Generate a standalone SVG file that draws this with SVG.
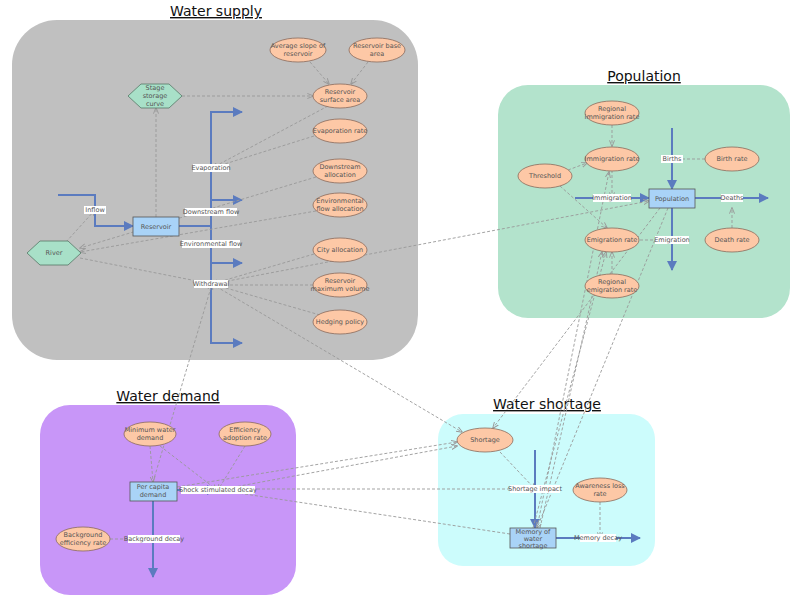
<svg xmlns="http://www.w3.org/2000/svg" width="800" height="600" viewBox="0 0 800 600">
<style>
text{font-family:"DejaVu Sans",sans-serif;font-size:6.5px;fill:#555;text-anchor:middle;dominant-baseline:middle}
.t{font-size:14px;fill:#111;text-decoration:underline}
.e{fill:#fdc8a6;stroke:#8a6a5a;stroke-width:0.8}
.h{fill:#a8e0c8;stroke:#557766;stroke-width:0.8}
.s{fill:#a9d3f7;stroke:#555;stroke-width:0.8}
.f{fill:none;stroke:#5b7bbf;stroke-width:2;marker-end:url(#fa)}
.d{fill:none;stroke:#999;stroke-width:0.9;stroke-dasharray:3,2;marker-end:url(#da)}
.lb{fill:#fff}
</style>
<defs>
<marker id="fa" viewBox="0 0 10 10" refX="9" refY="5" markerWidth="5" markerHeight="5" orient="auto"><path d="M0,0L10,5L0,10z" fill="#5b7bbf"/></marker>
<marker id="da" viewBox="0 0 10 10" refX="9" refY="5" markerWidth="7" markerHeight="7" orient="auto"><path d="M0,1L10,5L0,9" fill="none" stroke="#999" stroke-width="1.5"/></marker>
</defs>
<rect x="0" y="0" width="800" height="600" fill="#fff"/>
<g id="groups">
<rect x="12" y="20" width="406" height="340" rx="45" fill="#c0c0c0"/>
<text class="t" x="216" y="12">Water supply</text>
<rect x="498" y="85" width="292" height="233" rx="30" fill="#b3e3cc"/>
<text class="t" x="644" y="77">Population</text>
<rect x="40" y="405" width="256" height="190" rx="30" fill="#c896f8"/>
<text class="t" x="168" y="397">Water demand</text>
<rect x="438" y="414" width="217" height="152" rx="25" fill="#ccfcfc"/>
<text class="t" x="547" y="405">Water shortage</text>
</g>
<g id="connectors">
<path class="f" d="M58,195H95V226H133"/>
<path class="f" d="M179,226H211V112H242"/>
<path class="f" d="M211,200H242"/>
<path class="f" d="M211,226V263H242"/>
<path class="f" d="M211,263V343H242"/>
<path class="f" d="M672,128V189"/>
<path class="f" d="M575,198H649"/>
<path class="f" d="M695,198H768"/>
<path class="f" d="M672,208V270"/>
<path class="f" d="M535,450V528"/>
<path class="f" d="M556,538H640"/>
<path class="f" d="M177,490H216"/>
<path class="f" d="M153,500V577"/>
<path class="d" d="M310,62L329,84"/>
<path class="d" d="M368,62L351,84"/>
<path class="d" d="M182,96H313"/>
<path class="d" d="M156,217V108"/>
<path class="d" d="M328,106L212,168"/>
<path class="d" d="M314,136L212,168"/>
<path class="d" d="M316,177L80,248"/>
<path class="d" d="M316,211L80,252"/>
<path class="d" d="M66,242L95,210"/>
<path class="d" d="M80,258L212,284"/>
<path class="d" d="M314,254L212,284"/>
<path class="d" d="M313,285H212"/>
<path class="d" d="M320,315L212,284"/>
<path class="d" d="M212,284L649,201"/>
<path class="d" d="M153,482L212,284"/>
<path class="d" d="M212,284L462,432"/>
<path class="d" d="M612,125V146"/>
<path class="d" d="M568,170L587,163"/>
<path class="d" d="M560,186L607,228"/>
<path class="d" d="M612,170V198"/>
<path class="d" d="M705,159H672"/>
<path class="d" d="M732,228V208"/>
<path class="d" d="M640,240H672"/>
<path class="d" d="M612,274V252"/>
<path class="d" d="M660,208L493,428"/>
<path class="d" d="M668,208L537,528"/>
<path class="d" d="M537,528L609,172"/>
<path class="d" d="M533,528L606,252"/>
<path class="d" d="M540,528L602,252"/>
<path class="d" d="M500,452L535,489"/>
<path class="d" d="M600,502V538"/>
<path class="d" d="M150,446L153,482"/>
<path class="d" d="M160,446L217,490"/>
<path class="d" d="M245,446L218,490"/>
<path class="d" d="M535,489H218"/>
<path class="d" d="M510,534L218,490"/>
<path class="d" d="M177,487L457,442"/>
<path class="d" d="M218,490L457,446"/>
<path class="d" d="M110,539H153"/>
</g>
<g id="labels">
<rect class="lb" x="84" y="206" width="22" height="8"/><text x="95" y="210">Inflow</text>
<rect class="lb" x="193" y="164" width="36" height="8"/><text x="211" y="168">Evaporation</text>
<rect class="lb" x="185" y="208" width="52" height="8"/><text x="211" y="212">Downstream flow</text>
<rect class="lb" x="182" y="240" width="58" height="8"/><text x="211" y="244">Environmental flow</text>
<rect class="lb" x="194" y="280" width="34" height="8"/><text x="211" y="284">Withdrawal</text>
<rect class="lb" x="661" y="155" width="22" height="8"/><text x="672" y="159">Births</text>
<rect class="lb" x="593" y="194" width="38" height="8"/><text x="612" y="198">Immigration</text>
<rect class="lb" x="721" y="194" width="22" height="8"/><text x="732" y="198">Deaths</text>
<rect class="lb" x="655" y="236" width="34" height="8"/><text x="672" y="240">Emigration</text>
<rect class="lb" x="510" y="485" width="50" height="8"/><text x="535" y="489">Shortage impact</text>
<rect class="lb" x="580" y="534" width="36" height="8"/><text x="598" y="538">Memory decay</text>
<rect class="lb" x="181" y="486" width="74" height="8"/><text x="218" y="490">Shock stimulated decay</text>
<rect class="lb" x="128" y="535" width="52" height="8"/><text x="154" y="539">Background decay</text>
</g>
<g id="n-avgslope"><ellipse class="e" cx="298" cy="50" rx="28" ry="12"/><text x="298" y="46">Average slope of</text><text x="298" y="54">reservoir</text></g>
<g id="n-basearea"><ellipse class="e" cx="377" cy="50" rx="28" ry="12"/><text x="377" y="46">Reservoir base</text><text x="377" y="54">area</text></g>
<g id="n-stage"><polygon class="h" points="128,96 141,84 169,84 182,96 169,108 141,108"/><text x="155" y="88">Stage</text><text x="155" y="96">storage</text><text x="155" y="104">curve</text></g>
<g id="n-surface"><ellipse class="e" cx="340" cy="96" rx="27" ry="12"/><text x="340" y="92">Reservoir</text><text x="340" y="100">surface area</text></g>
<g id="n-evaprate"><ellipse class="e" cx="340" cy="131" rx="27" ry="12"/><text x="340" y="131">Evaporation rate</text></g>
<g id="n-downalloc"><ellipse class="e" cx="340" cy="171" rx="27" ry="12"/><text x="340" y="167">Downstream</text><text x="340" y="175">allocation</text></g>
<g id="n-envalloc"><ellipse class="e" cx="340" cy="205" rx="27" ry="12"/><text x="340" y="201">Environmental</text><text x="340" y="209">flow allocation</text></g>
<g id="n-city"><ellipse class="e" cx="340" cy="250" rx="27" ry="12"/><text x="340" y="250">City allocation</text></g>
<g id="n-maxvol"><ellipse class="e" cx="340" cy="285" rx="27" ry="12"/><text x="340" y="281">Reservoir</text><text x="340" y="289">maximum volume</text></g>
<g id="n-hedging"><ellipse class="e" cx="340" cy="322" rx="27" ry="12"/><text x="340" y="322">Hedging policy</text></g>
<g id="n-river"><polygon class="h" points="27,253 40,241 68,241 81,253 68,265 40,265"/><text x="54" y="253">River</text></g>
<g id="n-reservoir"><rect class="s" x="133" y="217" width="46" height="19"/><text x="156" y="227">Reservoir</text></g>
<g id="n-regimm"><ellipse class="e" cx="612" cy="113" rx="27" ry="12"/><text x="612" y="109">Regional</text><text x="612" y="117">immigration rate</text></g>
<g id="n-immrate"><ellipse class="e" cx="612" cy="159" rx="27" ry="12"/><text x="612" y="159">Immigration rate</text></g>
<g id="n-threshold"><ellipse class="e" cx="545" cy="176" rx="27" ry="12"/><text x="545" y="176">Threshold</text></g>
<g id="n-population"><rect class="s" x="649" y="189" width="46" height="19"/><text x="672" y="199">Population</text></g>
<g id="n-birthrate"><ellipse class="e" cx="732" cy="159" rx="27" ry="12"/><text x="732" y="159">Birth rate</text></g>
<g id="n-emrate"><ellipse class="e" cx="612" cy="240" rx="27" ry="12"/><text x="612" y="240">Emigration rate</text></g>
<g id="n-deathrate"><ellipse class="e" cx="732" cy="240" rx="27" ry="12"/><text x="732" y="240">Death rate</text></g>
<g id="n-regem"><ellipse class="e" cx="612" cy="286" rx="27" ry="12"/><text x="612" y="282">Regional</text><text x="612" y="290">emigration rate</text></g>
<g id="n-shortage"><ellipse class="e" cx="485" cy="440" rx="28" ry="12"/><text x="485" y="440">Shortage</text></g>
<g id="n-memory"><rect class="s" x="510" y="528" width="46" height="20"/><text x="533" y="532">Memory of</text><text x="533" y="539">water</text><text x="533" y="546">shortage</text></g>
<g id="n-awareness"><ellipse class="e" cx="600" cy="490" rx="27" ry="12"/><text x="600" y="486">Awareness loss</text><text x="600" y="494">rate</text></g>
<g id="n-minwater"><ellipse class="e" cx="150" cy="434" rx="26" ry="12"/><text x="150" y="430">Minimum water</text><text x="150" y="438">demand</text></g>
<g id="n-effadopt"><ellipse class="e" cx="245" cy="434" rx="26" ry="12"/><text x="245" y="430">Efficiency</text><text x="245" y="438">adoption rate</text></g>
<g id="n-percapita"><rect class="s" x="130" y="482" width="47" height="19"/><text x="153" y="487">Per capita</text><text x="153" y="495">demand</text></g>
<g id="n-bgeff"><ellipse class="e" cx="83" cy="539" rx="27" ry="12"/><text x="83" y="535">Background</text><text x="83" y="543">efficiency rate</text></g>
</svg>
